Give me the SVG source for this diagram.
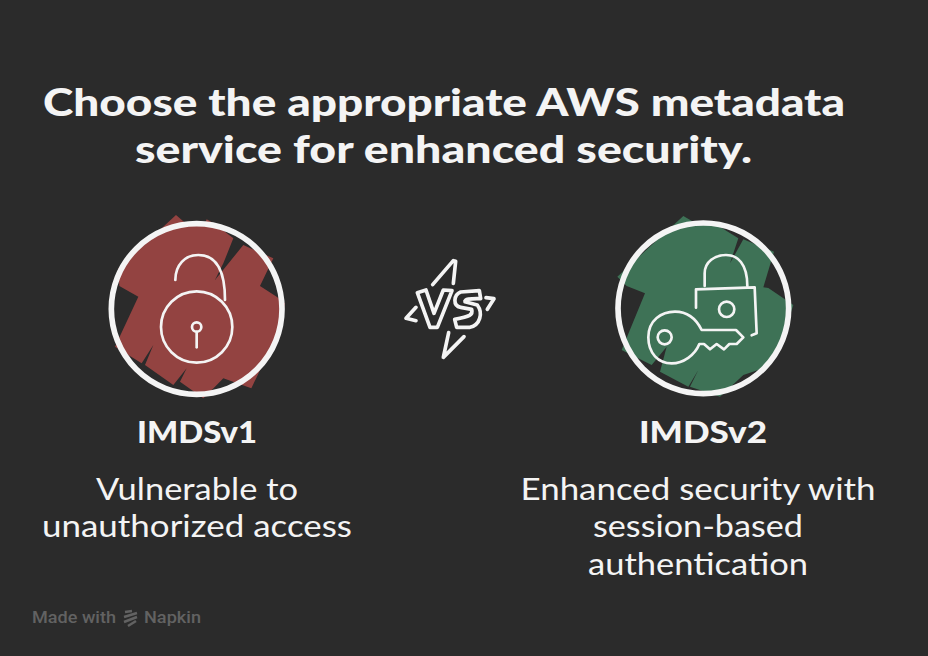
<svg xmlns="http://www.w3.org/2000/svg" width="928" height="656" viewBox="0 0 928 656">
<style>
.t{font-family:"Lato","Noto Sans","Liberation Sans",sans-serif;fill:#f4f4f4;text-anchor:middle}
.h{font-size:37px;font-weight:900}
.l{font-size:30px;font-weight:900}
.b{font-size:31px;font-weight:400}
.ring{fill:none;stroke:#f4f4f4;stroke-width:17}
.ic{fill:none;stroke:#f4f4f4;stroke-width:8;stroke-linecap:round;stroke-linejoin:round}
.vs{fill:none;stroke:#f4f4f4;stroke-width:11;stroke-linecap:round;stroke-linejoin:round}
.m{font-family:"Roboto","Liberation Sans",sans-serif;font-size:17px;font-weight:500;fill:#626262}
</style>
<rect width="928" height="656" fill="#2b2b2b"/>
<g id="title">
<text class="t h" x="444" y="116" textLength="802" lengthAdjust="spacingAndGlyphs">Choose the appropriate AWS metadata</text>
<text class="t h" x="443.500" y="163" textLength="617" lengthAdjust="spacingAndGlyphs">service for enhanced security.</text>
</g>
<g id="imdsv1">
<g transform="translate(90 200) scale(.33333)">
<path fill="#934341" d="M258 45L285 68L345 70L350 58L375 72L430 115L400 190L375 240L460 135L550 175L510 258L560 290L585 310L566 405L515 500L484 565L400 535L375 560L340 595L270 545L290 505L250 555L165 495L190 435L155 490L75 440L145 290L88 258L85 205Z"/>
<circle class="ring" cx="320" cy="327" r="256"/>
<path class="ic" d="M256 240C256 195 285 165 325 165C375 165 405 205 405 300"/>
<circle class="ic" cx="320" cy="381" r="107"/>
<circle class="ic" cx="320" cy="381" r="14"/>
<path class="ic" d="M320 396V442"/>
</g>
<text class="t l" x="197" y="443" textLength="120" lengthAdjust="spacingAndGlyphs">IMDSv1</text>
<text class="t b" x="197" y="500" textLength="202" lengthAdjust="spacingAndGlyphs">Vulnerable to</text>
<text class="t b" x="197" y="537" textLength="310" lengthAdjust="spacingAndGlyphs">unauthorized access</text>
</g>
<g id="vs">
<g transform="translate(390 250) scale(.33333)">
<path class="vs" d="M128 104L190 32L197 34L190 100M78 172L48 205L78 212M288 143L312 146L292 178M176 248L160 322L222 260"/>
<path class="vs" d="M82 128L108 120L132 190L160 120L186 122L142 232L120 232Z"/>
<path class="vs" d="M268 122L212 126C190 135 188 168 212 172L245 178C250 195 240 200 194 208L200 232L240 232C270 225 280 190 262 165L225 155C222 148 240 145 272 146Z"/>
</g>
</g>
<g id="imdsv2">
<g transform="translate(600 200) scale(.33333)">
<path fill="#3e7256" d="M250 48L285 68L340 68L415 115L390 190L430 118L522 155L490 262L505 264L580 315L548 415L490 505L430 525L360 590L270 560L295 510L265 560L180 515L200 440L155 495L65 450L135 280L80 258L52 230Z"/>
<circle class="ring" cx="310" cy="325" r="256"/>
<path class="ic" d="M288 323V268L464 262L470 400L455 406"/>
<path class="ic" d="M314 258V220C314 185 345 165 378 165C412 165 442 190 442 258"/>
<circle class="ic" cx="380" cy="328" r="23"/>
<path class="ic" d="M145 412C145 360 185 335 225 335C265 335 290 360 305 390H408L430 412L410 432H388L372 448L350 432L330 448L312 432H298C285 465 250 490 215 490C175 490 145 460 145 412Z"/>
<circle class="ic" cx="194" cy="412" r="21"/>
</g>
<text class="t l" x="703" y="443" textLength="128" lengthAdjust="spacingAndGlyphs">IMDSv2</text>
<text class="t b" x="698" y="500" textLength="355" lengthAdjust="spacingAndGlyphs">Enhanced security with</text>
<text class="t b" x="698" y="537" textLength="210" lengthAdjust="spacingAndGlyphs">session-based</text>
<text class="t b" x="698" y="575" textLength="220" lengthAdjust="spacingAndGlyphs">authentication</text>
</g>
<g id="footer">
<text class="m" x="32" y="623" textLength="84" lengthAdjust="spacingAndGlyphs">Made with</text>
<path fill="none" stroke="#626262" stroke-width="2.500" d="M125 612L132 611M124 617L137 613M124 622L137 617M128 626L136 621"/>
<text class="m" x="144" y="623" textLength="57" lengthAdjust="spacingAndGlyphs">Napkin</text>
</g>
</svg>
